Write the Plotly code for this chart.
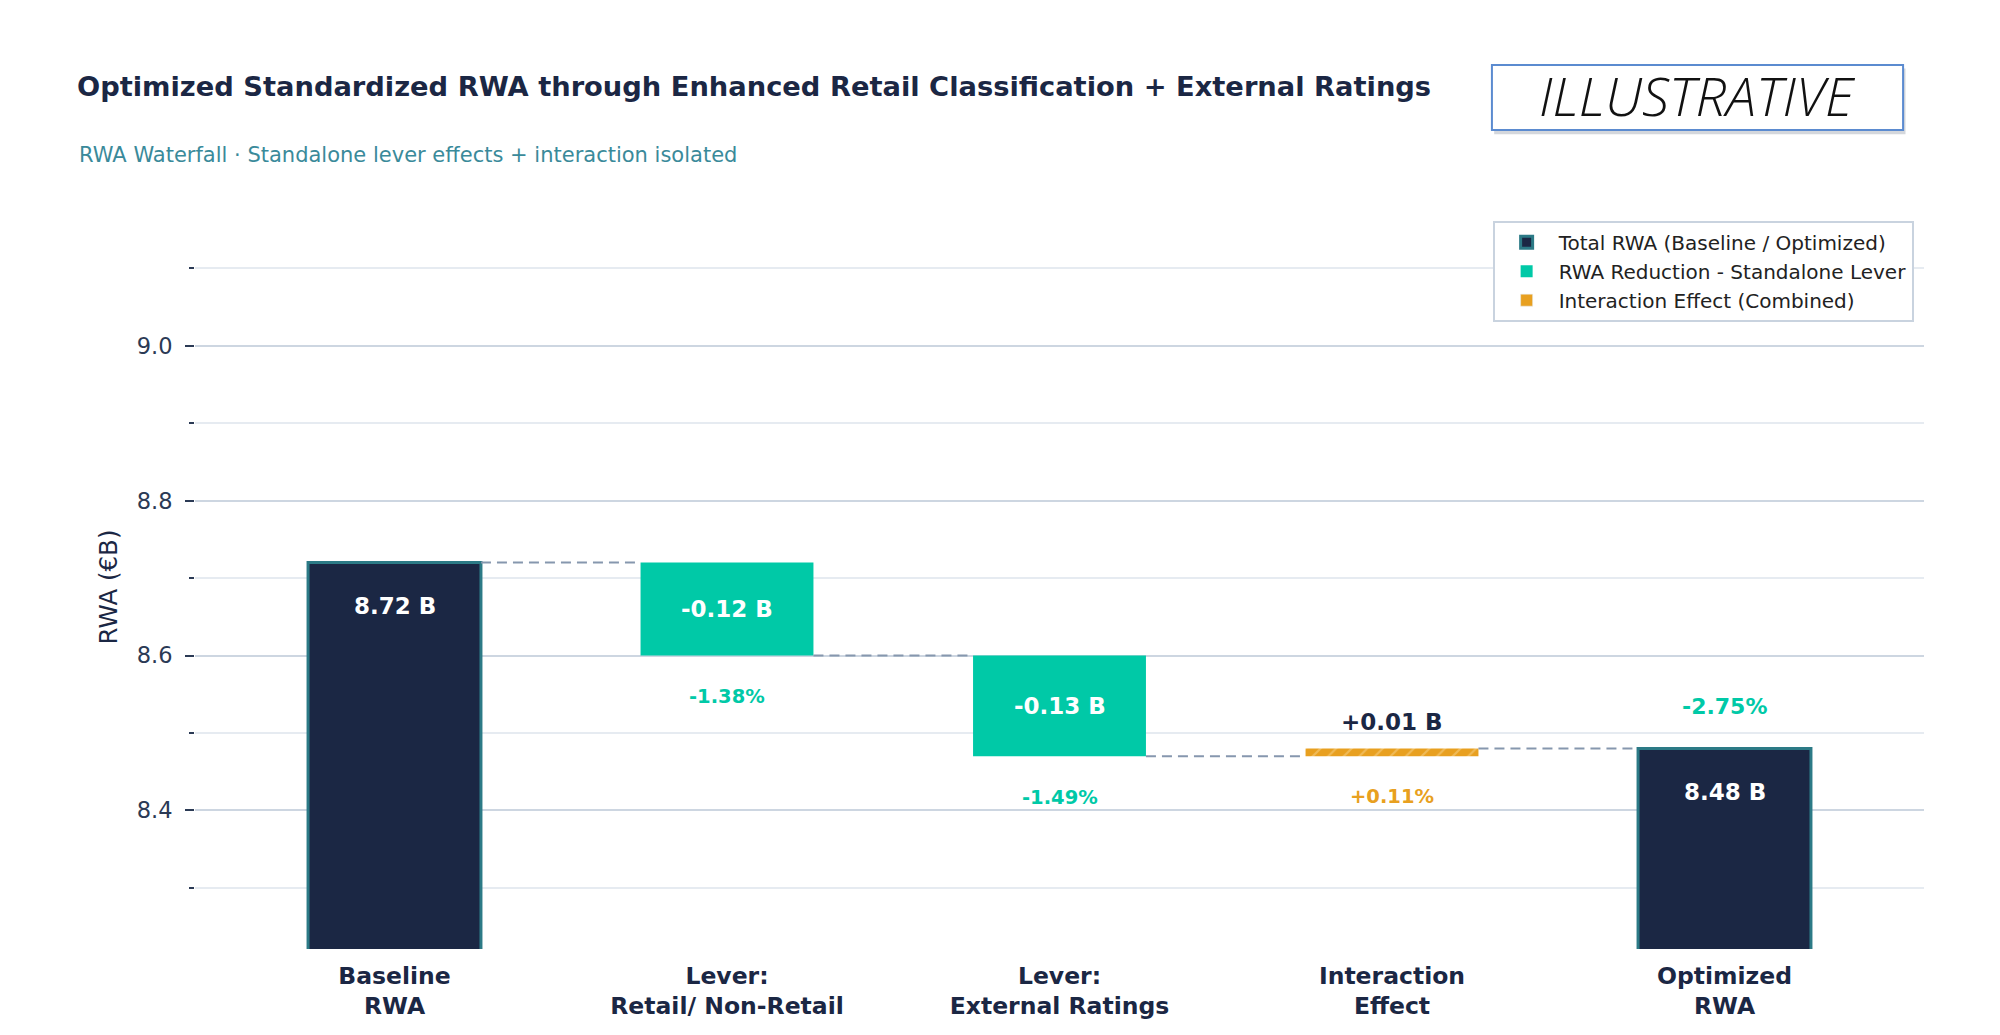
import plotly.graph_objects as go

# --- data (EUR billions) ---
categories = ["Baseline<br>RWA", "Lever:<br>Retail/ Non-Retail", "Lever:<br>External Ratings",
              "Interaction<br>Effect", "Optimized<br>RWA"]
baseline_rwa = 8.72
lever_deltas = [-0.120, -0.130]
interaction_delta = 0.0098

legend_names = ["Total RWA (Baseline / Optimized)",
                "RWA Reduction - Standalone Lever",
                "Interaction Effect (Combined)"]

NAVY = "#1B2744"
TEAL_EDGE = "#2C7A86"
GREEN = "#00C9A7"
ORANGE = "#E8A020"
SLATE = "#2B3A55"
FONT = "DejaVu Sans"
BAR_W = 0.52

# running levels
levels = [baseline_rwa]
for d in lever_deltas + [interaction_delta]:
    levels.append(levels[-1] + d)
optimized_rwa = levels[-1]
ends = levels[:]            # level where each bar ends (bar 0..3)
ends.append(optimized_rwa)  # optimized bar

fig = go.Figure()

# totals
fig.add_trace(go.Bar(
    x=[0, 4], y=[baseline_rwa, optimized_rwa], width=BAR_W,
    marker=dict(color=NAVY, line=dict(color=TEAL_EDGE, width=3)),
    name=legend_names[0], hoverinfo="skip"))

# standalone levers
fig.add_trace(go.Bar(
    x=[1, 2], y=lever_deltas, base=levels[0:2], width=BAR_W,
    marker=dict(color=GREEN, line=dict(width=0)),
    name=legend_names[1], hoverinfo="skip"))

# interaction (hatched), legend swatch kept solid
fig.add_trace(go.Bar(
    x=[3], y=[interaction_delta], base=[levels[2]], width=BAR_W,
    marker=dict(color=ORANGE, line=dict(width=0),
                pattern=dict(shape="/", fgcolor="#F6D38F", bgcolor=ORANGE, size=11, solidity=0.2)),
    name=legend_names[2], showlegend=False, hoverinfo="skip"))
fig.add_trace(go.Bar(x=[None], y=[None], marker=dict(color=ORANGE),
                     name=legend_names[2], hoverinfo="skip"))

# dashed connectors between bars
cx, cy = [], []
for i in range(4):
    cx += [i + BAR_W / 2, i + 1 - BAR_W / 2, None]
    cy += [ends[i], ends[i], None]
fig.add_trace(go.Scatter(x=cx, y=cy, mode="lines", showlegend=False, hoverinfo="skip",
                         line=dict(color="#8697AE", width=2, dash="10px,6px")))

# value labels
ann = []
for xi, v in [(0, baseline_rwa), (4, optimized_rwa)]:
    ann.append(dict(x=xi, y=v, yshift=-43, text=f"<b>{v:.2f} B</b>", showarrow=False,
                    font=dict(family=FONT, size=23, color="white")))
for k, d in enumerate(lever_deltas):
    top, bot = levels[k], levels[k + 1]
    ann.append(dict(x=k + 1, y=(top + bot) / 2, text=f"<b>{d:+.2f} B</b>", showarrow=False,
                    font=dict(family=FONT, size=23, color="white")))
    ann.append(dict(x=k + 1, y=min(top, bot), yshift=-41,
                    text=f"<b>{d / baseline_rwa * 100:+.2f}%</b>", showarrow=False,
                    font=dict(family=FONT, size=19.5, color=GREEN)))
ann.append(dict(x=3, y=max(levels[2], levels[3]), yshift=27,
                text=f"<b>{interaction_delta:+.2f} B</b>", showarrow=False,
                font=dict(family=FONT, size=23, color=NAVY)))
ann.append(dict(x=3, y=min(levels[2], levels[3]), yshift=-40,
                text=f"<b>{interaction_delta / baseline_rwa * 100:+.2f}%</b>", showarrow=False,
                font=dict(family=FONT, size=19.5, color=ORANGE)))
ann.append(dict(x=4, y=optimized_rwa, yshift=42,
                text=f"<b>{(optimized_rwa - baseline_rwa) / baseline_rwa * 100:+.2f}%</b>",
                showarrow=False, font=dict(family=FONT, size=22, color=GREEN)))

# subtitle + illustrative stamp
ann.append(dict(xref="paper", yref="paper", x=-0.0682, y=1.0967, xanchor="left", yanchor="middle",
                text="RWA Waterfall · Standalone lever effects + interaction isolated",
                showarrow=False, font=dict(family=FONT, size=21, color="#3A8A9A")))
ann.append(dict(xref="paper", yref="paper", x=0.869, y=1.179, xanchor="center", yanchor="middle",
                text="ILLUSTRATIVE", showarrow=False,
                font=dict(family="Open Sans", size=54, color="#111111", style="italic", weight=350)))

shapes = [
    dict(type="rect", xref="paper", yref="paper", x0=0.7514, x1=0.9893, y0=1.1255, y1=1.2160,
         fillcolor="rgba(120,130,145,0.32)", line=dict(width=0), layer="above"),
    dict(type="rect", xref="paper", yref="paper", x0=0.7501, x1=0.9879, y0=1.1312, y1=1.2210,
         fillcolor="white", line=dict(color="#5B8BD0", width=2), layer="above"),
]

# page body adds an 8px offset, so the figure is 8px smaller and margins shifted
fig.update_layout(
    width=1992, height=1027,
    margin=dict(l=187, r=76, t=217, b=86),
    paper_bgcolor="white", plot_bgcolor="white",
    barmode="overlay",
    font=dict(family=FONT, color=SLATE),
    title=dict(text="<b>Optimized Standardized RWA through Enhanced Retail Classification + External Ratings</b>",
               x=0.0346, xanchor="left", y=0.9240, yanchor="middle",
               font=dict(family=FONT, size=27.3, color=NAVY)),
    legend=dict(x=0.994, xanchor="right", y=1.006, yanchor="top", itemwidth=54,
                bgcolor="white", bordercolor="#C9D3DF", borderwidth=2,
                font=dict(family=FONT, size=20, color="#222222"), traceorder="normal"),
    annotations=ann,
    shapes=shapes,
    xaxis=dict(range=[-0.6, 4.6], tickvals=list(range(len(categories))),
               ticktext=[f"<b>{c}</b>" for c in categories],
               tickfont=dict(family=FONT, size=23.5, color=NAVY), ticklabelstandoff=10,
               showgrid=False, zeroline=False, showline=False, ticks=""),
    yaxis=dict(range=[8.221, 9.156], tick0=8.0, dtick=0.2, tickformat=".1f",
               ticks="outside", ticklen=9, tickwidth=2, tickcolor=SLATE, ticklabelstandoff=8,
               tickfont=dict(family=FONT, size=22.5, color=SLATE),
               gridcolor="#CDD6E1", gridwidth=2, zeroline=False, showline=False,
               minor=dict(dtick=0.1, tick0=8.0, ticks="outside", ticklen=5, tickwidth=2,
                          tickcolor=SLATE, showgrid=True, gridcolor="#E6EBF1", gridwidth=1.5),
               title=dict(text="RWA (€B)", standoff=12, font=dict(family=FONT, size=24.5, color=NAVY))),
)

fig.write_html("out.html")
